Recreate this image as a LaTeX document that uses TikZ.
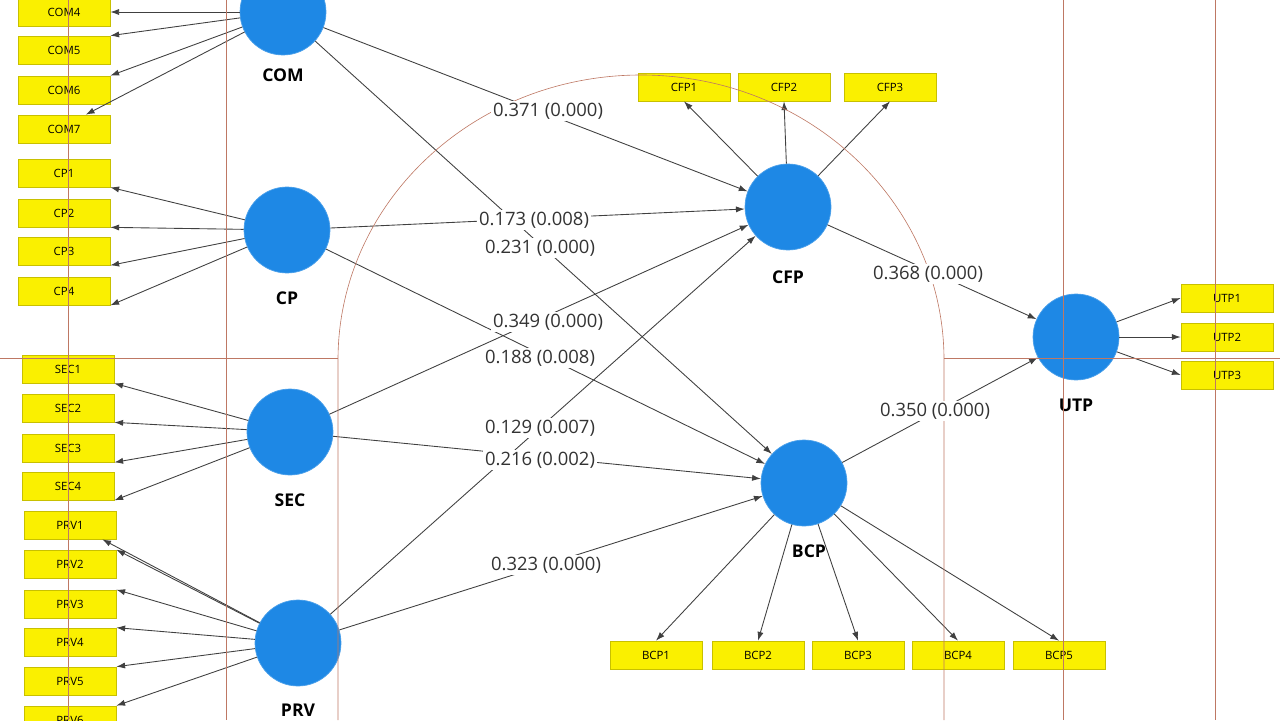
\documentclass[tikz,border=0pt]{standalone}
\usepackage{fontspec}
\setmainfont{Open Sans}
\usetikzlibrary{arrows.meta}
\definecolor{lvblue}{RGB}{30,136,229}
\definecolor{ind}{RGB}{250,240,0}
\definecolor{guide}{RGB}{190,120,100}
\tikzset{
  lv/.style={circle, fill=lvblue, draw=lvblue!80!white, minimum size=1.72cm, inner sep=0pt},
  mv/.style={rectangle, fill=ind, draw=ind!80!black, minimum width=1.84cm, minimum height=0.56cm, font=\fontsize{6.5}{7}\selectfont},
  lvname/.style={font=\bfseries\fontsize{10}{11}\selectfont},
  coef/.style={fill=white, inner sep=1pt, font=\fontsize{10.5}{12}\selectfont, text=black!80},
  path/.style={draw=black!75, line width=0.5pt, -{Latex[length=5pt,width=3.5pt]}},
  grid/.style={draw=guide, line width=0.35pt}
}
\begin{document}
\begin{tikzpicture}[x=0.02cm,y=-0.02cm]
  \useasboundingbox (0,0) rectangle (1280,720);

  % latent variables
  \node[lv] (COM) at (283,12) {};
  \node[lv] (CP) at (287,230) {};
  \node[lv] (SEC) at (290,432) {};
  \node[lv] (PRV) at (298,643) {};
  \node[lv] (CFP) at (788,207) {};
  \node[lv] (BCP) at (804,483) {};
  \node[lv] (UTP) at (1076,337) {};
  \node[lvname] at (283,75) {COM};
  \node[lvname] at (287,298) {CP};
  \node[lvname] at (290,500) {SEC};
  \node[lvname] at (298,710) {PRV};
  \node[lvname] at (788,277) {CFP};
  \node[lvname] at (809,551) {BCP};
  \node[lvname] at (1076,405) {UTP};

  % indicators
  \foreach \n/\y in {4/12,5/50,6/90,7/129}
    \node[mv] (COM\n) at (64,\y) {COM\n};
  \foreach \n/\y in {1/173,2/213,3/251,4/291}
    \node[mv] (CP\n) at (64,\y) {CP\n};
  \foreach \n/\y in {1/369,2/408,3/448,4/486}
    \node[mv] (SEC\n) at (68,\y) {SEC\n};
  \foreach \n/\y in {1/525,2/564,3/604,4/642,5/681,6/720}
    \node[mv] (PRV\n) at (70,\y) {PRV\n};
  \foreach \n/\x in {1/684,2/784,3/890}
    \node[mv] (CFP\n) at (\x,87) {CFP\n};
  \foreach \n/\x in {1/656,2/758,3/858,4/958,5/1059}
    \node[mv] (BCP\n) at (\x,655) {BCP\n};
  \foreach \n/\y in {1/298,2/337,3/375}
    \node[mv] (UTP\n) at (1227,\y) {UTP\n};

  % outer loadings
  \draw[path] (COM) -- (COM4.east);
  \draw[path] (COM) -- (COM5.north east);
  \draw[path] (COM) -- (COM6.north east);
  \draw[path] (COM) -- ([xshift=-14]COM7.north east);
  \foreach \n in {1,...,4} \draw[path] (CP) -- (CP\n.south east);
  \foreach \n in {1,...,4} \draw[path] (SEC) -- (SEC\n.south east);
  \draw[path] (PRV) -- ([xshift=-8]PRV1.south east);
  \foreach \n in {2,...,6} \draw[path] (PRV) -- (PRV\n.north east);
  \foreach \n in {1,...,3} \draw[path] (CFP) -- (CFP\n.south);
  \foreach \n in {1,...,5} \draw[path] (BCP) -- (BCP\n.north);
  \foreach \n in {1,...,3} \draw[path] (UTP) -- (UTP\n.west);

  % inner paths
  \draw[path] (COM) -- (CFP);
  \draw[path] (COM) -- (BCP);
  \draw[path] (CP) -- (CFP);
  \draw[path] (CP) -- (BCP);
  \draw[path] (SEC) -- (CFP);
  \draw[path] (SEC) -- (BCP);
  \draw[path] (PRV) -- (CFP);
  \draw[path] (PRV) -- (BCP);
  \draw[path] (CFP) -- (UTP);
  \draw[path] (BCP) -- (UTP);

  % construct lines
  \draw[grid] (68,0) -- (68,720);
  \draw[grid] (226,0) -- (226,720);
  \draw[grid] (1063,0) -- (1063,720);
  \draw[grid] (1215,0) -- (1215,720);
  \draw[grid] (0,358) -- (338,358);
  \draw[grid] (944,358) -- (1280,358);
  \draw[grid] (338,720) -- (338,360) arc[start angle=180, end angle=0, x radius=303, y radius=-285] -- (944,720);

  % coefficients
  \node[coef] at (548,111) {0.371 (0.000)};
  \node[coef] at (534,220) {0.173 (0.008)};
  \node[coef] at (540,248) {0.231 (0.000)};
  \node[coef] at (548,322) {0.349 (0.000)};
  \node[coef] at (540,358) {0.188 (0.008)};
  \node[coef] at (540,428) {0.129 (0.007)};
  \node[coef] at (540,460) {0.216 (0.002)};
  \node[coef] at (546,565) {0.323 (0.000)};
  \node[coef] at (928,274) {0.368 (0.000)};
  \node[coef] at (935,411) {0.350 (0.000)};
\end{tikzpicture}
\end{document}
